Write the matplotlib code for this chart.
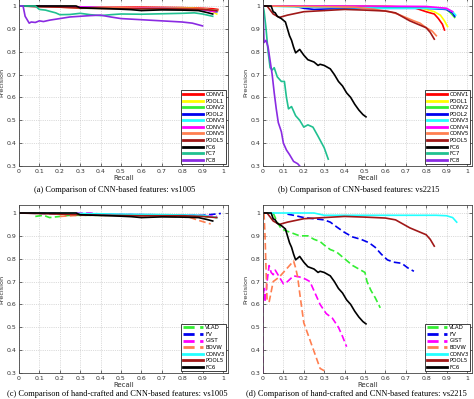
import matplotlib.pyplot as plt

# ---- data (recall, precision) ----
# (a) CNN features, vs1005
a_conv1_r = [0, 0.2, 0.4, 0.6, 0.8, 0.9, 0.95, 0.975]
a_conv1_p = [1.0, 0.998, 0.995, 0.995, 0.993, 0.99, 0.988, 0.985]
a_pool1_r = [0, 0.3, 0.5, 0.7, 0.85, 0.92, 0.95, 0.97]
a_pool1_p = [1.0, 0.995, 0.993, 0.99, 0.99, 0.985, 0.975, 0.965]
a_conv2_r = [0, 0.27, 0.3, 0.5, 0.7, 0.9, 0.97]
a_conv2_p = [1.0, 0.998, 0.99, 0.99, 0.988, 0.985, 0.98]
a_pool2_r = [0, 0.3, 0.5, 0.7, 0.9, 0.97]
a_pool2_p = [1.0, 0.995, 0.99, 0.99, 0.985, 0.975]
a_conv3_r = [0, 0.3, 0.5, 0.7, 0.9, 0.97]
a_conv3_p = [1.0, 0.995, 0.992, 0.99, 0.987, 0.98]
a_conv4_r = [0, 0.3, 0.5, 0.7, 0.9, 0.96]
a_conv4_p = [1.0, 0.996, 0.993, 0.99, 0.985, 0.975]
a_conv5_r = [0, 0.2, 0.3, 0.42, 0.6, 0.8, 0.9, 0.975]
a_conv5_p = [1.0, 0.995, 0.99, 0.995, 0.99, 0.99, 0.988, 0.98]
a_pool5_r = [0, 0.2, 0.35, 0.5, 0.7, 0.9, 0.97]
a_pool5_p = [1.0, 0.995, 0.99, 0.988, 0.988, 0.985, 0.98]
a_fc6_r = [0, 0.28, 0.3, 0.45, 0.55, 0.6, 0.7, 0.8, 0.88, 0.92, 0.95]
a_fc6_p = [1.0, 1.0, 0.992, 0.988, 0.984, 0.98, 0.983, 0.982, 0.98, 0.972, 0.965]
a_fc7_r = [0, 0.08, 0.1, 0.13, 0.15, 0.18, 0.2, 0.25, 0.3, 0.35, 0.4, 0.45, 0.5, 0.6, 0.7, 0.8, 0.86, 0.9, 0.95]
a_fc7_p = [1.0, 1.0, 0.985, 0.982, 0.977, 0.97, 0.962, 0.963, 0.968, 0.962, 0.958, 0.962, 0.965, 0.964, 0.966, 0.968, 0.97, 0.965, 0.955]
a_fc8_r = [0, 0.02, 0.03, 0.04, 0.05, 0.06, 0.08, 0.1, 0.12, 0.15, 0.2, 0.25, 0.3, 0.35, 0.4, 0.45, 0.5, 0.6, 0.7, 0.8, 0.85, 0.9]
a_fc8_p = [1.0, 1.0, 0.955, 0.94, 0.925, 0.93, 0.928, 0.935, 0.932, 0.938, 0.945, 0.952, 0.955, 0.958, 0.96, 0.952, 0.945, 0.94, 0.935, 0.93, 0.925, 0.913]

# (b) CNN features, vs2215
b_conv1_r = [0, 0.5, 0.7, 0.75, 0.8, 0.84, 0.86, 0.88, 0.89]
b_conv1_p = [1.0, 1.0, 0.995, 0.99, 0.975, 0.965, 0.945, 0.92, 0.895]
b_pool1_r = [0, 0.6, 0.7, 0.78, 0.84, 0.87, 0.89, 0.905]
b_pool1_p = [1.0, 1.0, 0.995, 0.99, 0.975, 0.96, 0.935, 0.91]
b_conv2_r = [0, 0.5, 0.7, 0.85, 0.9, 0.92, 0.94]
b_conv2_p = [1.0, 0.998, 0.995, 0.99, 0.985, 0.97, 0.95]
b_pool2_r = [0, 0.15, 0.2, 0.25, 0.4, 0.6, 0.8, 0.9, 0.93, 0.94]
b_pool2_p = [1.0, 1.0, 0.99, 0.985, 0.99, 0.99, 0.99, 0.985, 0.97, 0.955]
b_conv3_r = [0, 0.2, 0.4, 0.6, 0.8, 0.9, 0.93, 0.945]
b_conv3_p = [1.0, 0.995, 0.993, 0.99, 0.99, 0.988, 0.975, 0.96]
b_conv4_r = [0, 0.5, 0.8, 0.9, 0.93]
b_conv4_p = [1.0, 1.0, 0.998, 0.99, 0.975]
b_conv5_r = [0, 0.45, 0.55, 0.62, 0.66, 0.7, 0.74, 0.77, 0.8, 0.83, 0.85]
b_conv5_p = [1.0, 0.995, 0.985, 0.975, 0.965, 0.95, 0.935, 0.925, 0.905, 0.89, 0.87]
b_pool5_r = [0, 0.02, 0.05, 0.08, 0.12, 0.2, 0.3, 0.4, 0.5, 0.6, 0.65, 0.68, 0.72, 0.76, 0.8, 0.82, 0.84]
b_pool5_p = [1.0, 1.0, 0.965, 0.95, 0.96, 0.975, 0.98, 0.985, 0.982, 0.978, 0.97, 0.955, 0.935, 0.92, 0.905, 0.885, 0.855]
b_fc6_r = [0, 0.04, 0.05, 0.06, 0.07, 0.09, 0.11, 0.12, 0.13, 0.14, 0.15, 0.16, 0.18, 0.2, 0.22, 0.25, 0.27, 0.28, 0.3, 0.33, 0.35, 0.37, 0.39, 0.41, 0.43, 0.45, 0.47, 0.49, 0.505]
b_fc6_p = [1.0, 1.0, 0.975, 0.97, 0.955, 0.945, 0.93, 0.9, 0.87, 0.85, 0.82, 0.795, 0.81, 0.785, 0.765, 0.755, 0.74, 0.745, 0.74, 0.725, 0.7, 0.67, 0.65, 0.62, 0.6, 0.57, 0.545, 0.525, 0.515]
b_fc7_r = [0, 0.005, 0.015, 0.025, 0.035, 0.045, 0.055, 0.07, 0.09, 0.105, 0.115, 0.125, 0.14, 0.16, 0.18, 0.2, 0.22, 0.245, 0.27, 0.3, 0.32]
b_fc7_p = [1.0, 0.98, 0.9, 0.8, 0.73, 0.72, 0.73, 0.69, 0.67, 0.67, 0.6, 0.55, 0.56, 0.52, 0.5, 0.47, 0.48, 0.47, 0.43, 0.38, 0.33]
b_fc8_r = [0, 0.005, 0.015, 0.025, 0.035, 0.045, 0.055, 0.065, 0.075, 0.09, 0.1, 0.115, 0.13, 0.15, 0.17, 0.18]
b_fc8_p = [1.0, 0.84, 0.85, 0.82, 0.76, 0.7, 0.62, 0.55, 0.49, 0.45, 0.4, 0.37, 0.35, 0.32, 0.31, 0.3]

# (c) hand-crafted vs CNN, vs1005
c_vlad_r = [0.08, 0.12, 0.15, 0.2, 0.25, 0.4, 0.6, 0.8, 0.9, 0.97]
c_vlad_p = [0.985, 0.99, 0.98, 0.985, 0.99, 0.99, 0.99, 0.99, 0.985, 0.98]
c_fv_r = [0, 0.3, 0.5, 0.7, 0.9, 0.96, 0.99]
c_fv_p = [1.0, 0.995, 0.993, 0.992, 0.99, 0.995, 0.998]
c_gist_r = [0.28, 0.35, 0.4, 0.6, 0.8, 0.9, 0.97]
c_gist_p = [1.0, 1.0, 0.995, 0.993, 0.99, 0.99, 0.985]
c_bovw_r = [0.2, 0.3, 0.5, 0.7, 0.84, 0.88, 0.91, 0.94]
c_bovw_p = [0.985, 0.99, 0.99, 0.988, 0.98, 0.968, 0.96, 0.952]
c_conv3_r = [0, 0.3, 0.5, 0.7, 0.9, 0.97]
c_conv3_p = [1.0, 0.998, 0.995, 0.993, 0.99, 0.98]
c_pool5_r = [0, 0.2, 0.4, 0.6, 0.8, 0.9, 0.97]
c_pool5_p = [1.0, 0.995, 0.99, 0.988, 0.988, 0.985, 0.98]
c_fc6_r = [0, 0.28, 0.3, 0.45, 0.55, 0.6, 0.7, 0.8, 0.88, 0.92, 0.95]
c_fc6_p = [1.0, 1.0, 0.992, 0.988, 0.984, 0.98, 0.983, 0.982, 0.98, 0.972, 0.965]

# (d) hand-crafted vs CNN, vs2215
d_vlad_r = [0.0, 0.05, 0.07, 0.09, 0.12, 0.15, 0.18, 0.22, 0.25, 0.28, 0.3, 0.33, 0.36, 0.4, 0.44, 0.47, 0.5, 0.51, 0.53, 0.55, 0.575]
d_vlad_p = [1.0, 1.0, 0.96, 0.93, 0.92, 0.91, 0.9, 0.9, 0.885, 0.875, 0.86, 0.84, 0.83, 0.8, 0.77, 0.755, 0.74, 0.7, 0.66, 0.63, 0.585]
d_fv_r = [0.12, 0.15, 0.2, 0.25, 0.3, 0.33, 0.36, 0.4, 0.44, 0.48, 0.52, 0.55, 0.58, 0.61, 0.64, 0.68, 0.71, 0.74]
d_fv_p = [0.995, 0.99, 0.98, 0.975, 0.97, 0.96, 0.94, 0.915, 0.895, 0.885, 0.87, 0.85, 0.82, 0.795, 0.785, 0.78, 0.76, 0.745]
d_gist_r = [0.0, 0.0, 0.005, 0.01, 0.02, 0.03, 0.04, 0.05, 0.06, 0.08, 0.1, 0.12, 0.15, 0.18, 0.21, 0.23, 0.25, 0.28, 0.31, 0.34, 0.37, 0.39, 0.41]
d_gist_p = [0.3, 0.62, 0.67, 0.61, 0.7, 0.77, 0.74, 0.73, 0.75, 0.72, 0.69, 0.7, 0.725, 0.72, 0.71, 0.7, 0.66, 0.6, 0.56, 0.54, 0.5, 0.46, 0.415]
d_bovw_r = [0.005, 0.01, 0.015, 0.02, 0.03, 0.05, 0.08, 0.1, 0.12, 0.14, 0.15, 0.16, 0.17, 0.18, 0.2, 0.22, 0.24, 0.26, 0.28, 0.3]
d_bovw_p = [1.0, 0.9, 0.75, 0.62, 0.61, 0.7, 0.72, 0.74, 0.76, 0.78, 0.79, 0.76, 0.72, 0.65, 0.52, 0.47, 0.42, 0.37, 0.32, 0.31]
d_conv3_r = [0, 0.25, 0.3, 0.5, 0.7, 0.85, 0.9, 0.93, 0.95]
d_conv3_p = [1.0, 1.0, 0.99, 0.99, 0.99, 0.99, 0.988, 0.98, 0.96]
d_pool5_r = b_pool5_r
d_pool5_p = b_pool5_p
d_fc6_r = b_fc6_r
d_fc6_p = b_fc6_p

cnn_names = ['CONV1', 'POOL1', 'CONV2', 'POOL2', 'CONV3', 'CONV4', 'CONV5', 'POOL5', 'FC6', 'FC7', 'FC8']
hand_names = ['VLAD', 'FV', 'GIST', 'BOVW', 'CONV3', 'POOL5', 'FC6']

captions = ['(a) Comparison of CNN-based features: vs1005',
            '(b) Comparison of CNN-based features: vs2215',
            '(c) Comparison of hand-crafted and CNN-based features: vs1005',
            '(d) Comparison of hand-crafted and CNN-based features: vs2215']

cnn_colors = ['#ff0000', '#ffff00', '#33ee33', '#0000ee', '#22ffff', '#ff00ff',
              '#ff7f50', '#a01818', '#000000', '#20c090', '#8a2be2']
hand_colors = ['#33ee33', '#0000ee', '#ff00ff', '#ff7f50', '#22ffff', '#a01818', '#000000']
hand_styles = ['--', '--', '--', '--', '-', '-', '-']

a_data = [(a_conv1_r, a_conv1_p), (a_pool1_r, a_pool1_p), (a_conv2_r, a_conv2_p),
          (a_pool2_r, a_pool2_p), (a_conv3_r, a_conv3_p), (a_conv4_r, a_conv4_p),
          (a_conv5_r, a_conv5_p), (a_pool5_r, a_pool5_p), (a_fc6_r, a_fc6_p),
          (a_fc7_r, a_fc7_p), (a_fc8_r, a_fc8_p)]
b_data = [(b_conv1_r, b_conv1_p), (b_pool1_r, b_pool1_p), (b_conv2_r, b_conv2_p),
          (b_pool2_r, b_pool2_p), (b_conv3_r, b_conv3_p), (b_conv4_r, b_conv4_p),
          (b_conv5_r, b_conv5_p), (b_pool5_r, b_pool5_p), (b_fc6_r, b_fc6_p),
          (b_fc7_r, b_fc7_p), (b_fc8_r, b_fc8_p)]
c_data = [(c_vlad_r, c_vlad_p), (c_fv_r, c_fv_p), (c_gist_r, c_gist_p), (c_bovw_r, c_bovw_p),
          (c_conv3_r, c_conv3_p), (c_pool5_r, c_pool5_p), (c_fc6_r, c_fc6_p)]
d_data = [(d_vlad_r, d_vlad_p), (d_fv_r, d_fv_p), (d_gist_r, d_gist_p), (d_bovw_r, d_bovw_p),
          (d_conv3_r, d_conv3_p), (d_pool5_r, d_pool5_p), (d_fc6_r, d_fc6_p)]

W, H = 474, 399
fig = plt.figure(figsize=(W / 100, H / 100), dpi=100)

# axes boxes in pixels: left, top, right, bottom
boxes = [(19, -2, 228, 166), (263, -2, 472, 166), (19, 205, 228, 373), (263, 205, 472, 373)]
cap_pos = [(115, 190), (359, 190), (117, 394), (356, 394)]


def style_axes(ax):
    ax.set_xlim(0, 1.025)
    ax.set_ylim(0.3, 1.035)
    ax.set_xticks([i / 10 for i in range(11)])
    ax.set_xticklabels(['0'] + ['%.1f' % (i / 10) for i in range(1, 10)] + ['1'])
    ax.set_yticks([0.3, 0.4, 0.5, 0.6, 0.7, 0.8, 0.9, 1.0])
    ax.set_yticklabels(['0.3', '0.4', '0.5', '0.6', '0.7', '0.8', '0.9', '1'])
    ax.tick_params(direction='in', top=True, right=True, labelsize=4.5, length=2,
                   width=0.5, pad=2, colors='#333333')
    ax.grid(True, linestyle=':', color='#bbbbbb', linewidth=0.5)
    for s in ax.spines.values():
        s.set_linewidth(0.6)
        s.set_color('#444444')
    ax.set_xlabel('Recall', fontsize=5, labelpad=1, color='#333333')
    ax.set_ylabel('Precision', fontsize=4.6, color='#333333')
    ax.yaxis.set_label_coords(-0.07, 0.5)


panels = [(a_data, cnn_names, cnn_colors, ['-'] * 11),
          (b_data, cnn_names, cnn_colors, ['-'] * 11),
          (c_data, hand_names, hand_colors, hand_styles),
          (d_data, hand_names, hand_colors, hand_styles)]

for k, (data, names, colors, styles) in enumerate(panels):
    l, t, r, b = boxes[k]
    ax = fig.add_axes([l / W, 1 - b / H, (r - l) / W, (b - t) / H])
    for (x, y), name, col, ls in zip(data, names, colors, styles):
        ax.plot(x, y, color=col, linestyle=ls, linewidth=1.2, label=name,
                dashes=(4, 2) if ls == '--' else (None, None))
    style_axes(ax)
    leg = ax.legend(loc='lower right', fontsize=4, handlelength=3.6, labelspacing=0.28,
                    borderaxespad=0.3, borderpad=0.3, handletextpad=0.4, fancybox=False,
                    framealpha=1, edgecolor='#222222')
    leg.get_frame().set_linewidth(0.6)
    for line in leg.get_lines():
        line.set_linewidth(2)
    cx, cy = cap_pos[k]
    fig.text(cx / W, 1 - cy / H, captions[k], ha='center', va='center',
             fontsize=6, family='Liberation Serif')

fig.savefig('out.png', dpi=100)
